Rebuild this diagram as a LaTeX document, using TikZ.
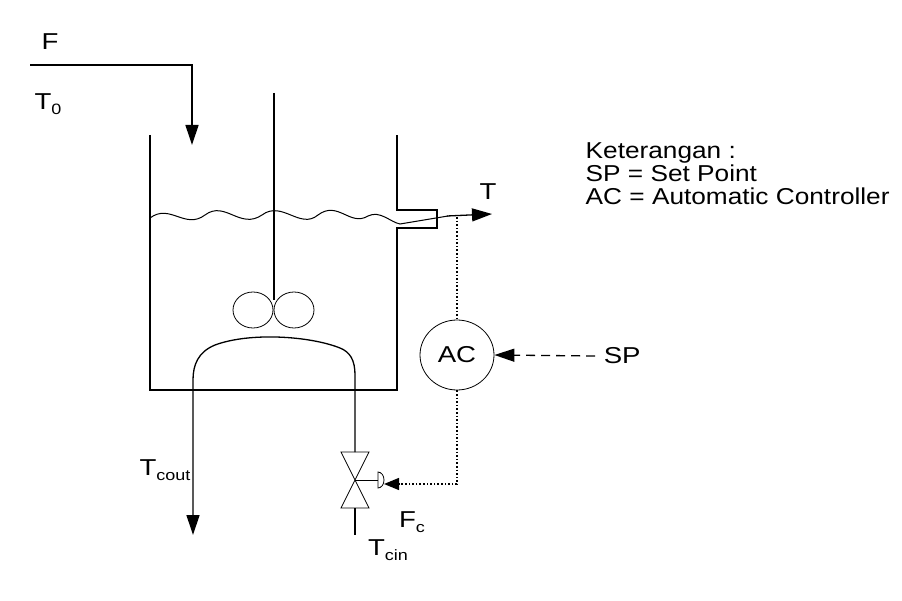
\documentclass[tikz,border=0pt]{standalone}
\usepackage{fontspec}
\setmainfont{Liberation Sans}
\usetikzlibrary{arrows.meta,shapes.geometric}
\newcommand{\lo}[1]{\raisebox{-0.45ex}{\fontsize{15}{15}\selectfont #1}}
\begin{document}
\begin{tikzpicture}[x=1pt,y=-1pt,line width=1.3pt,
  lbl/.style={font=\fontsize{23}{23}\selectfont,inner sep=0pt,xscale=1.2},
  tip/.style={-{Triangle[length=20pt,width=13pt]}},
  sig/.style={dotted,line width=1.6pt}]
\useasboundingbox (0,0) rectangle (902,601);
\node[lbl] (F) at (50,42) {F};
\node[lbl] (T0) at (48,104) {T\lo{0}};
\coordinate (f0) at (30,65); \coordinate (f1) at (192,65); \coordinate (f2) at (192,145);
\draw[tip] (f0) -- (f1) -- (f2);
% tank
\draw (150,135) -- (150,390) -- (397,390) -- (397,228) -- (437,228) -- (437,210) -- (397,210) -- (397,135);
% liquid
\draw[line width=1pt] (150,218) .. controls (170,203) and (185,230) .. (205,215)
  .. controls (225,200) and (240,230) .. (262,215)
  .. controls (282,200) and (300,230) .. (318,215)
  .. controls (338,200) and (350,227) .. (368,216)
  .. controls (380,210) and (390,222) .. (400,224) -- (448,216);
\coordinate (t0) at (447,216); \coordinate (t1) at (492,214);
\draw[tip] (t0) -- (t1);
\node[lbl] (T) at (488,192) {T};
% shaft and impeller
\draw (274,93) -- (274,300);
\draw[line width=0.8pt] (253,310) ellipse (20 and 18);
\draw[line width=0.8pt] (294,310) ellipse (20 and 18);
% coil
\coordinate (c1) at (193,535);
\draw[tip] (355,452) -- (355,375) .. controls (355,360) and (350,352) .. (340,348)
  .. controls (310,336) and (250,332) .. (215,345) .. controls (198,352) and (193,365) .. (193,380) -- (c1);
\node[lbl] (Tc) at (165,470) {T\lo{cout}};
% valve
\draw[line width=0.8pt] (341,452) -- (369,452) -- (341,508) -- (369,508) -- cycle;
\draw (355,508) -- (355,535);
\draw[line width=1pt] (355,480) -- (378,480);
\draw[line width=0.8pt] (378,472) arc (-90:90:6 and 8) -- cycle;
\node[lbl] (Fc) at (412,522) {F\lo{c}};
\node[lbl] (Tcin) at (388,550) {T\lo{cin}};
% controller
\node[draw,ellipse,minimum width=74pt,minimum height=70pt,line width=0.8pt,lbl,xscale=1/1.2] (AC) at (457,355) {\scalebox{1.2}[1]{AC}};
\draw[sig] (457,217) -- (AC.north);
\coordinate (v) at (384,484);
\draw[sig] (AC.south) -- (457,484) -- (400,484);
\draw[-{Triangle[length=15pt,width=12pt]}] (400,484) -- (v);
\node[lbl,anchor=west] (SP) at (603,356) {SP};
\draw[dashed,line width=1.3pt,dash pattern=on 9pt off 6pt,tip] (SP.west) ++(-8,0) -- (AC.east);
\node[lbl,anchor=north west,align=left,xscale=1.14/1.2] (K) at (585,142) {Keterangan :\\SP = Set Point\\AC = Automatic Controller};
\end{tikzpicture}
\end{document}
